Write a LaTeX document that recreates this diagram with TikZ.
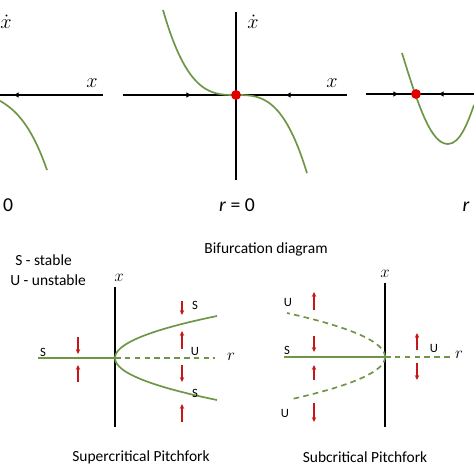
\documentclass[tikz,border=0pt]{standalone}
\usepackage{fontspec}
\setmainfont{Carlito}
\usetikzlibrary{arrows.meta}
\definecolor{curvegreen}{RGB}{110,150,70}
\definecolor{flowred}{RGB}{196,24,24}
\definecolor{fixred}{RGB}{225,0,0}

\begin{document}
\begin{tikzpicture}[
    x=0.025cm, y=-0.025cm,
    axis/.style={line width=1.5pt, black},
    baxis/.style={line width=0.9pt, black},
    mid/.style={axis, -{Latex[length=4pt,width=4pt]}},
    curve/.style={line width=1.2pt, curvegreen},
    unst/.style={curve, dash pattern=on 4pt off 3pt},
    flow/.style={line width=0.9pt, flowred, -{Stealth[length=3.5pt,width=3.2pt]}},
    fixpt/.style={circle, fill=fixred, inner sep=0pt, minimum size=7pt},
    var/.style={font=\fontsize{15}{15}\selectfont},
    bvar/.style={font=\fontsize{13}{13}\selectfont},
    rlab/.style={font=\fontsize{14}{14}\selectfont},
    lbl/.style={font=\fontsize{9}{10}\selectfont},
    captext/.style={font=\fontsize{11}{13}\selectfont},
]
\useasboundingbox (0,0) rectangle (474,474);

% Phase lines, r<0
\coordinate (aL1) at (0,95);
\coordinate (aL2) at (103,95);
\draw[axis] (aL1) -- (aL2);
\draw[mid] (aL2) -- (13,95);
\draw[curve] plot[domain=0:47, samples=40]
    ({\x},{95+0.5*(\x+11)+0.236*((\x+11)/10)*((\x+11)/10)*((\x+11)/10)});
\node[var] (xL) at (92,83) {$x$};
\node[var] (xdL) at (6,22) {$\dot x$};
\node[rlab] (rL) at (8,205) {0};

% Phase lines, r=0
\coordinate (aM1) at (123,95);
\coordinate (aM2) at (347,95);
\coordinate (vM1) at (236,12);
\coordinate (vM2) at (236,180);
\draw[axis] (vM1) -- (vM2);
\draw[axis] (aM1) -- (aM2);
\draw[mid] (aM1) -- (192,95);
\draw[mid] (aM2) -- (285,95);
\draw[curve] plot[domain=-73:71, samples=60]
    ({236+\x},{95+0.2185*(\x/10)*(\x/10)*(\x/10)});
\node[fixpt] (pM) at (236,95) {};
\node[var] (xM) at (332,83) {$x$};
\node[var] (xdM) at (253,22) {$\dot x$};
\node[rlab] (rM) at (237,205) {\textit{r} = 0};

% Phase lines, r>0
\coordinate (aR1) at (366,94);
\coordinate (aR2) at (474,94);
\draw[axis] (aR1) -- (aR2);
\draw[mid] (aR1) -- (399,94);
\draw[mid] (aR2) -- (438,94);
\draw[curve] (402,53) .. controls (420,112) and (432,144) .. (448,144)
    .. controls (460,144) and (468,122) .. (474,105);
\node[fixpt] (pR) at (416,94) {};
\node[rlab] (rR) at (466,207) {\textit{r}};

% Bifurcation diagrams
\node[captext] (title) at (266,249) {Bifurcation diagram};
\node[captext, anchor=west, inner sep=0pt] (legS) at (15,260) {S - stable};
\node[captext, anchor=west, inner sep=0pt] (legU) at (10,280) {U - unstable};

% supercritical
\coordinate (sup0) at (115,358);
\coordinate (supT) at (115,287);
\coordinate (supB) at (115,427);
\coordinate (supL) at (38,358);
\coordinate (supR) at (215,358);
\draw[baxis] (supT) -- (supB);
\draw[curve] (supL) -- (sup0);
\draw[unst] (sup0) -- (supR);
\draw[curve] plot[domain=0:42, samples=30] ({115+102*(\x/42)*(\x/42)},{358-\x});
\draw[curve] plot[domain=0:42, samples=30] ({115+102*(\x/42)*(\x/42)},{358+\x});
\node[bvar] (supx) at (119,278) {$x$};
\node[bvar] (supr) at (231,357) {$r$};
\node[lbl] (supS0) at (43,352) {S};
\node[lbl] (supS1) at (195,305) {S};
\node[lbl] (supU) at (195,351) {U};
\node[lbl] (supS2) at (195,393) {S};
\draw[flow] (78,337) -- (78,354);
\draw[flow] (78,382) -- (78,365);
\draw[flow] (182,301) -- (182,315);
\draw[flow] (182,349) -- (182,331);
\draw[flow] (182,365) -- (182,382);
\draw[flow] (182,422) -- (182,404);
\node[captext] (supcap) at (141,457) {Supercritical Pitchfork};

% subcritical
\coordinate (sub0) at (385,357);
\coordinate (subT) at (385,283);
\coordinate (subB) at (385,427);
\coordinate (subL) at (284,357);
\coordinate (subR) at (452,357);
\draw[baxis] (subT) -- (subB);
\draw[curve] (subL) -- (sub0);
\draw[unst] (sub0) -- (subR);
\draw[unst] plot[domain=0:44, samples=30] ({385-98*(\x/44)*(\x/44)},{357-\x});
\draw[unst] plot[domain=0:42, samples=30] ({385-93*(\x/42)*(\x/42)},{357+\x});
\node[bvar] (subx) at (385,274) {$x$};
\node[bvar] (subr) at (459,355) {$r$};
\node[lbl] (subU1) at (288,302) {U};
\node[lbl] (subS) at (287,350) {S};
\node[lbl] (subU2) at (285,413) {U};
\node[lbl] (subU0) at (434,348) {U};
\draw[flow] (314,310) -- (314,292);
\draw[flow] (314,336) -- (314,352);
\draw[flow] (314,380) -- (314,365);
\draw[flow] (314,403) -- (314,422);
\draw[flow] (417,350) -- (417,333);
\draw[flow] (417,363) -- (417,380);
\node[captext] (subcap) at (365,457) {Subcritical Pitchfork};
\end{tikzpicture}
\end{document}
